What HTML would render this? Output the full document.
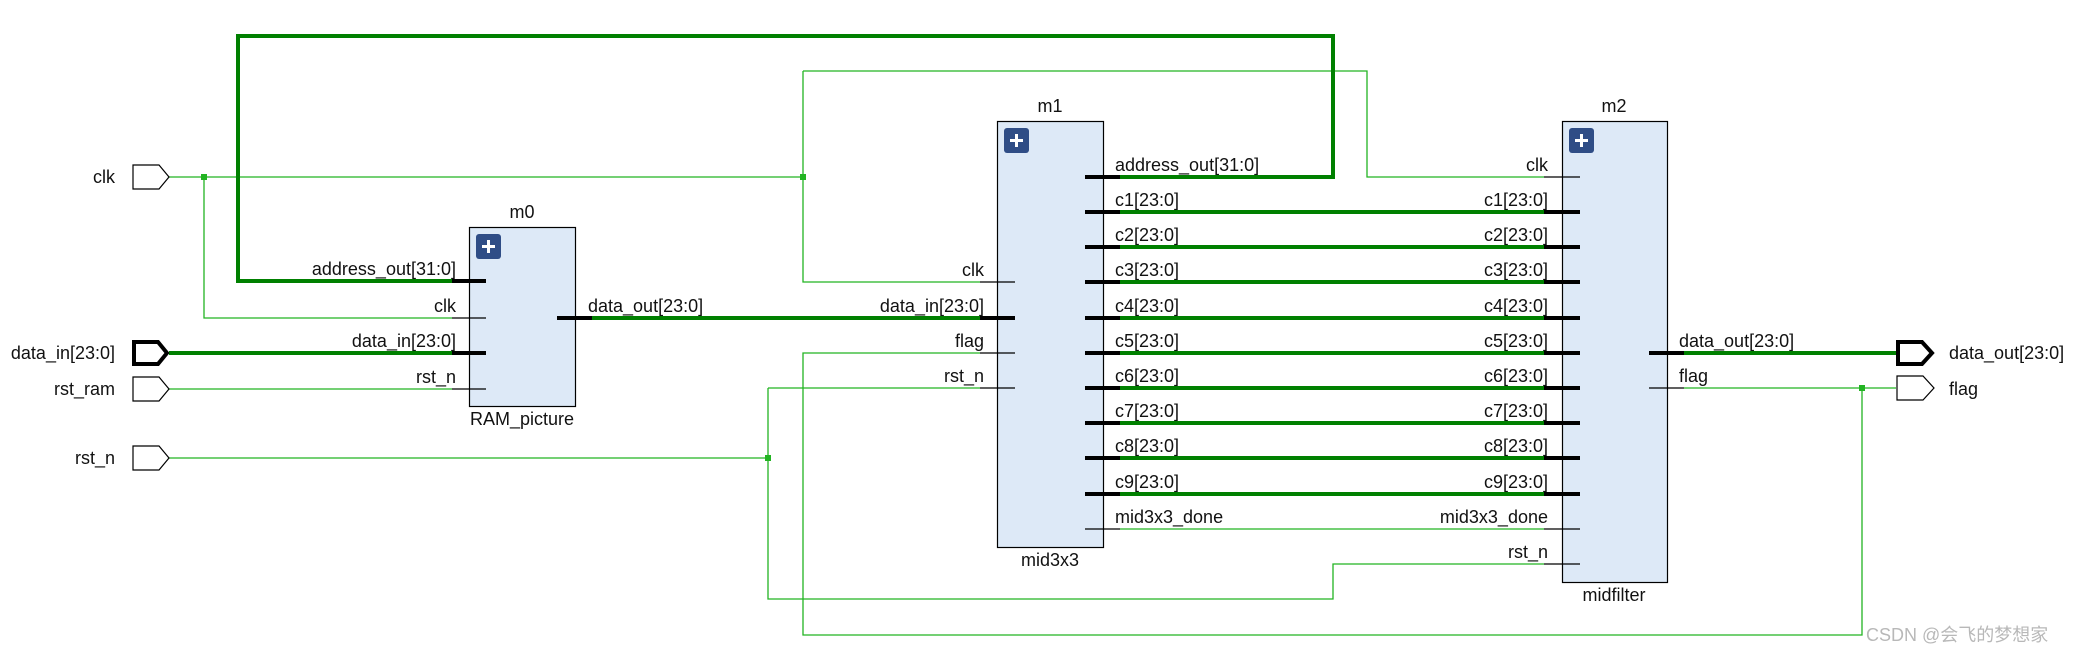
<!DOCTYPE html>
<html><head><meta charset="utf-8"><style>
html,body{margin:0;padding:0;background:#fff;}
svg{display:block;}
text{font-family:"Liberation Sans","Noto Sans CJK SC",sans-serif;font-size:18px;fill:#111;}
</style></head><body>
<svg width="2073" height="652" viewBox="0 0 2073 652" xmlns="http://www.w3.org/2000/svg">
<rect x="469.5" y="227.5" width="106" height="179" fill="#dde9f7" stroke="#000" stroke-width="1.2"/>
<rect x="997.5" y="121.5" width="106" height="426" fill="#dde9f7" stroke="#000" stroke-width="1.2"/>
<rect x="1562.5" y="121.5" width="105" height="461" fill="#dde9f7" stroke="#000" stroke-width="1.2"/>
<g fill="#2f4d86"><rect x="476" y="234" width="25" height="25" rx="3"/><rect x="1004" y="128" width="25" height="25" rx="3"/><rect x="1569" y="128" width="25" height="25" rx="3"/></g>
<g stroke="#fff" stroke-width="3"><path d="M482 246.5h13M488.5 240v13M1010 140.5h13M1016.5 134v13M1575 140.5h13M1581.5 134v13"/></g>
<g fill="none" stroke="#22b422" stroke-width="1.3">
<path d="M169 177H803M204 177V318H452M803 71V282H980M803 71H1367V177H1544"/>
<path d="M169 389H452M169 458H768M768 388H980M768 388V599H1333V564H1544"/>
<path d="M980 353H803V635H1862V388H1684M1862 388H1896"/>
<path d="M1120 529H1544"/>
</g>
<g fill="#22b422"><rect x="201" y="174" width="6" height="6"/><rect x="800" y="174" width="6" height="6"/><rect x="765" y="455" width="6" height="6"/><rect x="1859" y="385" width="6" height="6"/></g>
<g fill="none" stroke="#008000" stroke-width="4">
<path d="M452 281H238V36H1333V177H1120"/>
<path d="M169 353H452M592 318H980M1684 353H1896"/>
<path d="M1120 212H1544M1120 247H1544M1120 282H1544M1120 318H1544M1120 353H1544M1120 388H1544M1120 423H1544M1120 458H1544M1120 494H1544"/>
</g>
<g stroke="#000" stroke-width="4">
<path d="M452 281H486M452 353H486M557 318H592M980 318H1015M1085 177H1120M1085 212H1120M1085 247H1120M1085 282H1120M1085 318H1120M1085 353H1120M1085 388H1120M1085 423H1120M1085 458H1120M1085 494H1120"/>
<path d="M1544 212H1580M1544 247H1580M1544 282H1580M1544 318H1580M1544 353H1580M1544 388H1580M1544 423H1580M1544 458H1580M1544 494H1580M1649 353H1684"/>
</g>
<g stroke="#000" stroke-width="1.2">
<path d="M452 318H486M452 389H486M980 282H1015M980 353H1015M980 388H1015M1085 529H1120M1544 177H1580M1544 529H1580M1544 564H1580M1649 388H1684"/>
</g>
<g fill="#fff" stroke="#000" stroke-width="1.2">
<path d="M133 165H159L169 177L159 189H133Z"/>
<path d="M133 377H159L169 389L159 401H133Z"/>
<path d="M133 446H159L169 458L159 470H133Z"/>
<path d="M1897 376H1923L1934 388L1923 400H1897Z"/>
</g>
<g fill="#fff" stroke="#000" stroke-width="4">
<path d="M134 342H158L167 353L158 364H134Z"/>
<path d="M1898 342H1922L1932 353L1922 364H1898Z"/>
</g>
<g text-anchor="end">
<text x="115" y="183">clk</text>
<text x="115" y="359">data_in[23:0]</text>
<text x="115" y="395">rst_ram</text>
<text x="115" y="464">rst_n</text>
<text x="456" y="275">address_out[31:0]</text>
<text x="456" y="312">clk</text>
<text x="456" y="347">data_in[23:0]</text>
<text x="456" y="383">rst_n</text>
<text x="984" y="276">clk</text>
<text x="984" y="312">data_in[23:0]</text>
<text x="984" y="347">flag</text>
<text x="984" y="382">rst_n</text>
<text x="1548" y="171">clk</text>
<text x="1548" y="206">c1[23:0]</text>
<text x="1548" y="241">c2[23:0]</text>
<text x="1548" y="276">c3[23:0]</text>
<text x="1548" y="312">c4[23:0]</text>
<text x="1548" y="347">c5[23:0]</text>
<text x="1548" y="382">c6[23:0]</text>
<text x="1548" y="417">c7[23:0]</text>
<text x="1548" y="452">c8[23:0]</text>
<text x="1548" y="488">c9[23:0]</text>
<text x="1548" y="523">mid3x3_done</text>
<text x="1548" y="558">rst_n</text>
</g>
<g>
<text x="588" y="312">data_out[23:0]</text>
<text x="1115" y="171">address_out[31:0]</text>
<text x="1115" y="206">c1[23:0]</text>
<text x="1115" y="241">c2[23:0]</text>
<text x="1115" y="276">c3[23:0]</text>
<text x="1115" y="312">c4[23:0]</text>
<text x="1115" y="347">c5[23:0]</text>
<text x="1115" y="382">c6[23:0]</text>
<text x="1115" y="417">c7[23:0]</text>
<text x="1115" y="452">c8[23:0]</text>
<text x="1115" y="488">c9[23:0]</text>
<text x="1115" y="523">mid3x3_done</text>
<text x="1679" y="347">data_out[23:0]</text>
<text x="1679" y="382">flag</text>
<text x="1949" y="359">data_out[23:0]</text>
<text x="1949" y="395">flag</text>
</g>
<g text-anchor="middle">
<text x="522" y="218">m0</text>
<text x="522" y="425">RAM_picture</text>
<text x="1050" y="112">m1</text>
<text x="1050" y="566">mid3x3</text>
<text x="1614" y="112">m2</text>
<text x="1614" y="601">midfilter</text>
</g>
<text x="1866" y="641" style="fill:#b8b8b8;font-size:18px">CSDN @会飞的梦想家</text>
</svg>
</body></html>
